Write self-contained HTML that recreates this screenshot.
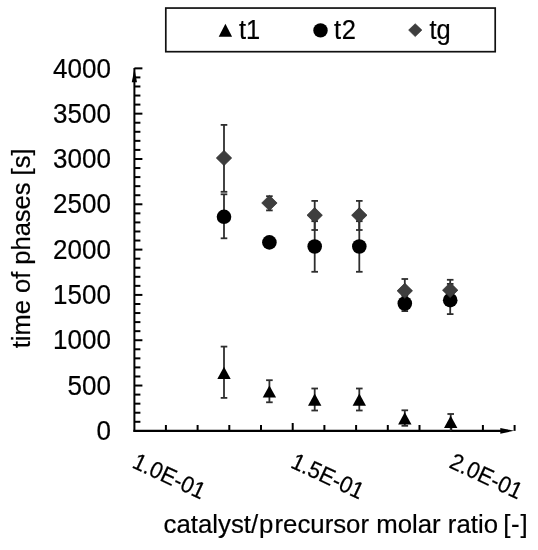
<!DOCTYPE html><html><head><meta charset="utf-8"><style>html,body{margin:0;padding:0;background:#fff;}svg{display:block;}text{stroke:#000;stroke-width:0.2px;}</style></head><body><svg width="538" height="550" viewBox="0 0 538 550">
<rect width="538" height="550" fill="#fff"/>
<rect x="165.8" y="8.05" width="329.4" height="43.65" fill="none" stroke="#111" stroke-width="1.7"/>
<polygon points="218.7,36.8 232.1,36.8 225.4,23.7" fill="#000"/>
<circle cx="320.5" cy="30.4" r="7.2" fill="#000"/>
<polygon points="415.2,23.7 421.9,30.1 415.2,36.6 408.6,30.1" fill="#3e3e3e" stroke="#262626" stroke-width="0.6"/>
<g font-family='"Liberation Sans", Arial, sans-serif' font-size="25.5" fill="#000">
<text transform="translate(239,38.8) scale(1,1.055)">t1</text><text transform="translate(334,38.8) scale(1,1.055)">t<tspan dx="0.6">2</tspan></text><text transform="translate(429.5,38.8) scale(1,1.055)">tg</text>
</g>
<g stroke="#000" stroke-width="2" fill="none">
<line x1="134.4" y1="68" x2="134.4" y2="431.85"/>
<line x1="133.4" y1="430.85" x2="508" y2="430.85" stroke-width="2.1"/>
<line x1="134.4" y1="421.79" x2="140.4" y2="421.79"/>
<line x1="134.4" y1="412.73" x2="140.4" y2="412.73"/>
<line x1="134.4" y1="403.66" x2="140.4" y2="403.66"/>
<line x1="134.4" y1="394.60" x2="140.4" y2="394.60"/>
<line x1="134.4" y1="385.54" x2="142.4" y2="385.54"/>
<line x1="134.4" y1="376.48" x2="140.4" y2="376.48"/>
<line x1="134.4" y1="367.41" x2="140.4" y2="367.41"/>
<line x1="134.4" y1="358.35" x2="140.4" y2="358.35"/>
<line x1="134.4" y1="349.29" x2="140.4" y2="349.29"/>
<line x1="134.4" y1="340.23" x2="142.4" y2="340.23"/>
<line x1="134.4" y1="331.16" x2="140.4" y2="331.16"/>
<line x1="134.4" y1="322.10" x2="140.4" y2="322.10"/>
<line x1="134.4" y1="313.04" x2="140.4" y2="313.04"/>
<line x1="134.4" y1="303.98" x2="140.4" y2="303.98"/>
<line x1="134.4" y1="294.91" x2="142.4" y2="294.91"/>
<line x1="134.4" y1="285.85" x2="140.4" y2="285.85"/>
<line x1="134.4" y1="276.79" x2="140.4" y2="276.79"/>
<line x1="134.4" y1="267.73" x2="140.4" y2="267.73"/>
<line x1="134.4" y1="258.66" x2="140.4" y2="258.66"/>
<line x1="134.4" y1="249.60" x2="142.4" y2="249.60"/>
<line x1="134.4" y1="240.54" x2="140.4" y2="240.54"/>
<line x1="134.4" y1="231.48" x2="140.4" y2="231.48"/>
<line x1="134.4" y1="222.41" x2="140.4" y2="222.41"/>
<line x1="134.4" y1="213.35" x2="140.4" y2="213.35"/>
<line x1="134.4" y1="204.29" x2="142.4" y2="204.29"/>
<line x1="134.4" y1="195.23" x2="140.4" y2="195.23"/>
<line x1="134.4" y1="186.16" x2="140.4" y2="186.16"/>
<line x1="134.4" y1="177.10" x2="140.4" y2="177.10"/>
<line x1="134.4" y1="168.04" x2="140.4" y2="168.04"/>
<line x1="134.4" y1="158.98" x2="142.4" y2="158.98"/>
<line x1="134.4" y1="149.91" x2="140.4" y2="149.91"/>
<line x1="134.4" y1="140.85" x2="140.4" y2="140.85"/>
<line x1="134.4" y1="131.79" x2="140.4" y2="131.79"/>
<line x1="134.4" y1="122.73" x2="140.4" y2="122.73"/>
<line x1="134.4" y1="113.66" x2="142.4" y2="113.66"/>
<line x1="134.4" y1="104.60" x2="140.4" y2="104.60"/>
<line x1="134.4" y1="95.54" x2="140.4" y2="95.54"/>
<line x1="134.4" y1="86.48" x2="140.4" y2="86.48"/>
<line x1="134.4" y1="77.41" x2="140.4" y2="77.41"/>
<line x1="134.4" y1="68.35" x2="142.4" y2="68.35"/>
<line x1="165.90" y1="430.85" x2="165.90" y2="425"/>
<line x1="197.60" y1="430.85" x2="197.60" y2="425"/>
<line x1="229.30" y1="430.85" x2="229.30" y2="425"/>
<line x1="261.00" y1="430.85" x2="261.00" y2="425"/>
<line x1="292.70" y1="430.85" x2="292.70" y2="423"/>
<line x1="324.40" y1="430.85" x2="324.40" y2="425"/>
<line x1="356.10" y1="430.85" x2="356.10" y2="425"/>
<line x1="387.80" y1="430.85" x2="387.80" y2="425"/>
<line x1="419.50" y1="430.85" x2="419.50" y2="425"/>
<line x1="451.20" y1="430.85" x2="451.20" y2="423"/>
<line x1="482.90" y1="430.85" x2="482.90" y2="425"/>
<line x1="514.60" y1="430.85" x2="514.60" y2="425"/>
</g>
<polygon points="131.8,82.3 137.0,82.3 134.4,68.5" fill="#000"/>
<polygon points="500.3,428.05 500.3,433.65000000000003 514.2,430.85" fill="#000"/>
<g font-family='"Liberation Sans", Arial, sans-serif' font-size="26" fill="#000" text-anchor="end">
<text transform="translate(110.9,440.05) scale(1,1.06)">0</text>
<text transform="translate(110.9,394.74) scale(1,1.06)">500</text>
<text transform="translate(110.9,349.43) scale(1,1.06)">1000</text>
<text transform="translate(110.9,304.11) scale(1,1.06)">1500</text>
<text transform="translate(110.9,258.80) scale(1,1.06)">2000</text>
<text transform="translate(110.9,213.49) scale(1,1.06)">2500</text>
<text transform="translate(110.9,168.18) scale(1,1.06)">3000</text>
<text transform="translate(110.9,122.86) scale(1,1.06)">3500</text>
<text transform="translate(110.9,77.55) scale(1,1.06)">4000</text>
</g>
<g font-family='"Liberation Sans", Arial, sans-serif' font-size="25.5" fill="#000">
<text font-size="22" transform="translate(131.00,467.1) rotate(25) scale(1,1.06)">1.0E-01</text>
<text font-size="22" transform="translate(289.50,467.1) rotate(25) scale(1,1.06)">1.5E-01</text>
<text font-size="22" transform="translate(448.00,467.1) rotate(25) scale(1,1.06)">2.0E-01</text>
</g>
<text transform="translate(163.6,532.8) scale(1,0.965)" font-family='"Liberation Sans", Arial, sans-serif' font-size="25.8" fill="#000">catalyst/<tspan dx="0.7">p</tspan><tspan dx="1.2">recursor molar ratio</tspan><tspan dx="-1.9"> [</tspan><tspan dx="0.5">-</tspan><tspan dx="0.8">]</tspan></text>
<text transform="translate(29.8,348.3) rotate(-90)" font-family='"Liberation Sans", Arial, sans-serif' font-size="25.5" fill="#000">time of phases [s]</text>
<g stroke="#2e2e2e" stroke-width="1.8" fill="none"><line x1="224.0" y1="346.6" x2="224.0" y2="397.9"/><line x1="220.7" y1="346.6" x2="227.3" y2="346.6"/><line x1="220.7" y1="397.9" x2="227.3" y2="397.9"/></g>
<g stroke="#2e2e2e" stroke-width="1.8" fill="none"><line x1="269.4" y1="380.2" x2="269.4" y2="402.3"/><line x1="266.09999999999997" y1="380.2" x2="272.7" y2="380.2"/><line x1="266.09999999999997" y1="402.3" x2="272.7" y2="402.3"/></g>
<g stroke="#2e2e2e" stroke-width="1.8" fill="none"><line x1="314.7" y1="388.5" x2="314.7" y2="410.5"/><line x1="311.4" y1="388.5" x2="318.0" y2="388.5"/><line x1="311.4" y1="410.5" x2="318.0" y2="410.5"/></g>
<g stroke="#2e2e2e" stroke-width="1.8" fill="none"><line x1="359.3" y1="388.5" x2="359.3" y2="410.5"/><line x1="356.0" y1="388.5" x2="362.6" y2="388.5"/><line x1="356.0" y1="410.5" x2="362.6" y2="410.5"/></g>
<g stroke="#2e2e2e" stroke-width="1.8" fill="none"><line x1="404.8" y1="410.3" x2="404.8" y2="425.8"/><line x1="401.5" y1="410.3" x2="408.1" y2="410.3"/><line x1="401.5" y1="425.8" x2="408.1" y2="425.8"/></g>
<g stroke="#2e2e2e" stroke-width="1.8" fill="none"><line x1="450.7" y1="414.0" x2="450.7" y2="430.85"/><line x1="447.4" y1="414.0" x2="454.0" y2="414.0"/></g>
<g stroke="#2e2e2e" stroke-width="1.8" fill="none"><line x1="224.0" y1="194.3" x2="224.0" y2="238.3"/><line x1="220.7" y1="194.3" x2="227.3" y2="194.3"/><line x1="220.7" y1="238.3" x2="227.3" y2="238.3"/></g>
<g stroke="#2e2e2e" stroke-width="1.8" fill="none"><line x1="314.7" y1="221.2" x2="314.7" y2="271.8"/><line x1="311.4" y1="221.2" x2="318.0" y2="221.2"/><line x1="311.4" y1="271.8" x2="318.0" y2="271.8"/></g>
<g stroke="#2e2e2e" stroke-width="1.8" fill="none"><line x1="359.3" y1="221.2" x2="359.3" y2="271.8"/><line x1="356.0" y1="221.2" x2="362.6" y2="221.2"/><line x1="356.0" y1="271.8" x2="362.6" y2="271.8"/></g>
<g stroke="#2e2e2e" stroke-width="1.8" fill="none"><line x1="404.8" y1="295.9" x2="404.8" y2="311.1"/><line x1="401.5" y1="295.9" x2="408.1" y2="295.9"/><line x1="401.5" y1="311.1" x2="408.1" y2="311.1"/></g>
<g stroke="#2e2e2e" stroke-width="1.8" fill="none"><line x1="450.2" y1="283.9" x2="450.2" y2="314.1"/><line x1="446.9" y1="283.9" x2="453.5" y2="283.9"/><line x1="446.9" y1="314.1" x2="453.5" y2="314.1"/></g>
<g stroke="#2e2e2e" stroke-width="1.8" fill="none"><line x1="224.0" y1="124.9" x2="224.0" y2="191.8"/><line x1="220.7" y1="124.9" x2="227.3" y2="124.9"/><line x1="220.7" y1="191.8" x2="227.3" y2="191.8"/></g>
<g stroke="#2e2e2e" stroke-width="1.8" fill="none"><line x1="269.4" y1="196.2" x2="269.4" y2="210.4"/><line x1="266.09999999999997" y1="196.2" x2="272.7" y2="196.2"/><line x1="266.09999999999997" y1="210.4" x2="272.7" y2="210.4"/></g>
<g stroke="#2e2e2e" stroke-width="1.8" fill="none"><line x1="314.7" y1="200.9" x2="314.7" y2="230.0"/><line x1="311.4" y1="200.9" x2="318.0" y2="200.9"/><line x1="311.4" y1="230.0" x2="318.0" y2="230.0"/></g>
<g stroke="#2e2e2e" stroke-width="1.8" fill="none"><line x1="359.3" y1="200.9" x2="359.3" y2="230.0"/><line x1="356.0" y1="200.9" x2="362.6" y2="200.9"/><line x1="356.0" y1="230.0" x2="362.6" y2="230.0"/></g>
<g stroke="#2e2e2e" stroke-width="1.8" fill="none"><line x1="404.8" y1="279.0" x2="404.8" y2="302.6"/><line x1="401.5" y1="279.0" x2="408.1" y2="279.0"/><line x1="401.5" y1="302.6" x2="408.1" y2="302.6"/></g>
<g stroke="#2e2e2e" stroke-width="1.8" fill="none"><line x1="450.2" y1="279.8" x2="450.2" y2="300.6"/><line x1="446.9" y1="279.8" x2="453.5" y2="279.8"/><line x1="446.9" y1="300.6" x2="453.5" y2="300.6"/></g>
<polygon points="217.30,379.00 230.70,379.00 224.00,366.80" fill="#000"/>
<polygon points="262.70,397.60 276.10,397.60 269.40,385.40" fill="#000"/>
<polygon points="308.00,405.70 321.40,405.70 314.70,393.50" fill="#000"/>
<polygon points="352.60,405.70 366.00,405.70 359.30,393.50" fill="#000"/>
<polygon points="398.10,424.40 411.50,424.40 404.80,412.20" fill="#000"/>
<polygon points="444.00,428.00 457.40,428.00 450.70,415.80" fill="#000"/>
<circle cx="224.0" cy="216.8" r="7.3" fill="#000"/>
<circle cx="269.4" cy="242.4" r="7.3" fill="#000"/>
<circle cx="314.7" cy="246.5" r="7.3" fill="#000"/>
<circle cx="359.3" cy="246.5" r="7.3" fill="#000"/>
<circle cx="404.8" cy="303.5" r="7.3" fill="#000"/>
<circle cx="450.2" cy="300.2" r="7.3" fill="#000"/>
<polygon points="224.00,150.40 231.70,158.00 224.00,165.60 216.30,158.00" fill="#3e3e3e" stroke="#262626" stroke-width="0.7"/>
<polygon points="269.40,195.40 277.10,203.00 269.40,210.60 261.70,203.00" fill="#3e3e3e" stroke="#262626" stroke-width="0.7"/>
<polygon points="314.70,207.60 322.40,215.20 314.70,222.80 307.00,215.20" fill="#3e3e3e" stroke="#262626" stroke-width="0.7"/>
<polygon points="359.30,207.60 367.00,215.20 359.30,222.80 351.60,215.20" fill="#3e3e3e" stroke="#262626" stroke-width="0.7"/>
<polygon points="404.80,283.20 412.50,290.80 404.80,298.40 397.10,290.80" fill="#3e3e3e" stroke="#262626" stroke-width="0.7"/>
<polygon points="450.20,282.60 457.90,290.20 450.20,297.80 442.50,290.20" fill="#3e3e3e" stroke="#262626" stroke-width="0.7"/>
</svg></body></html>
